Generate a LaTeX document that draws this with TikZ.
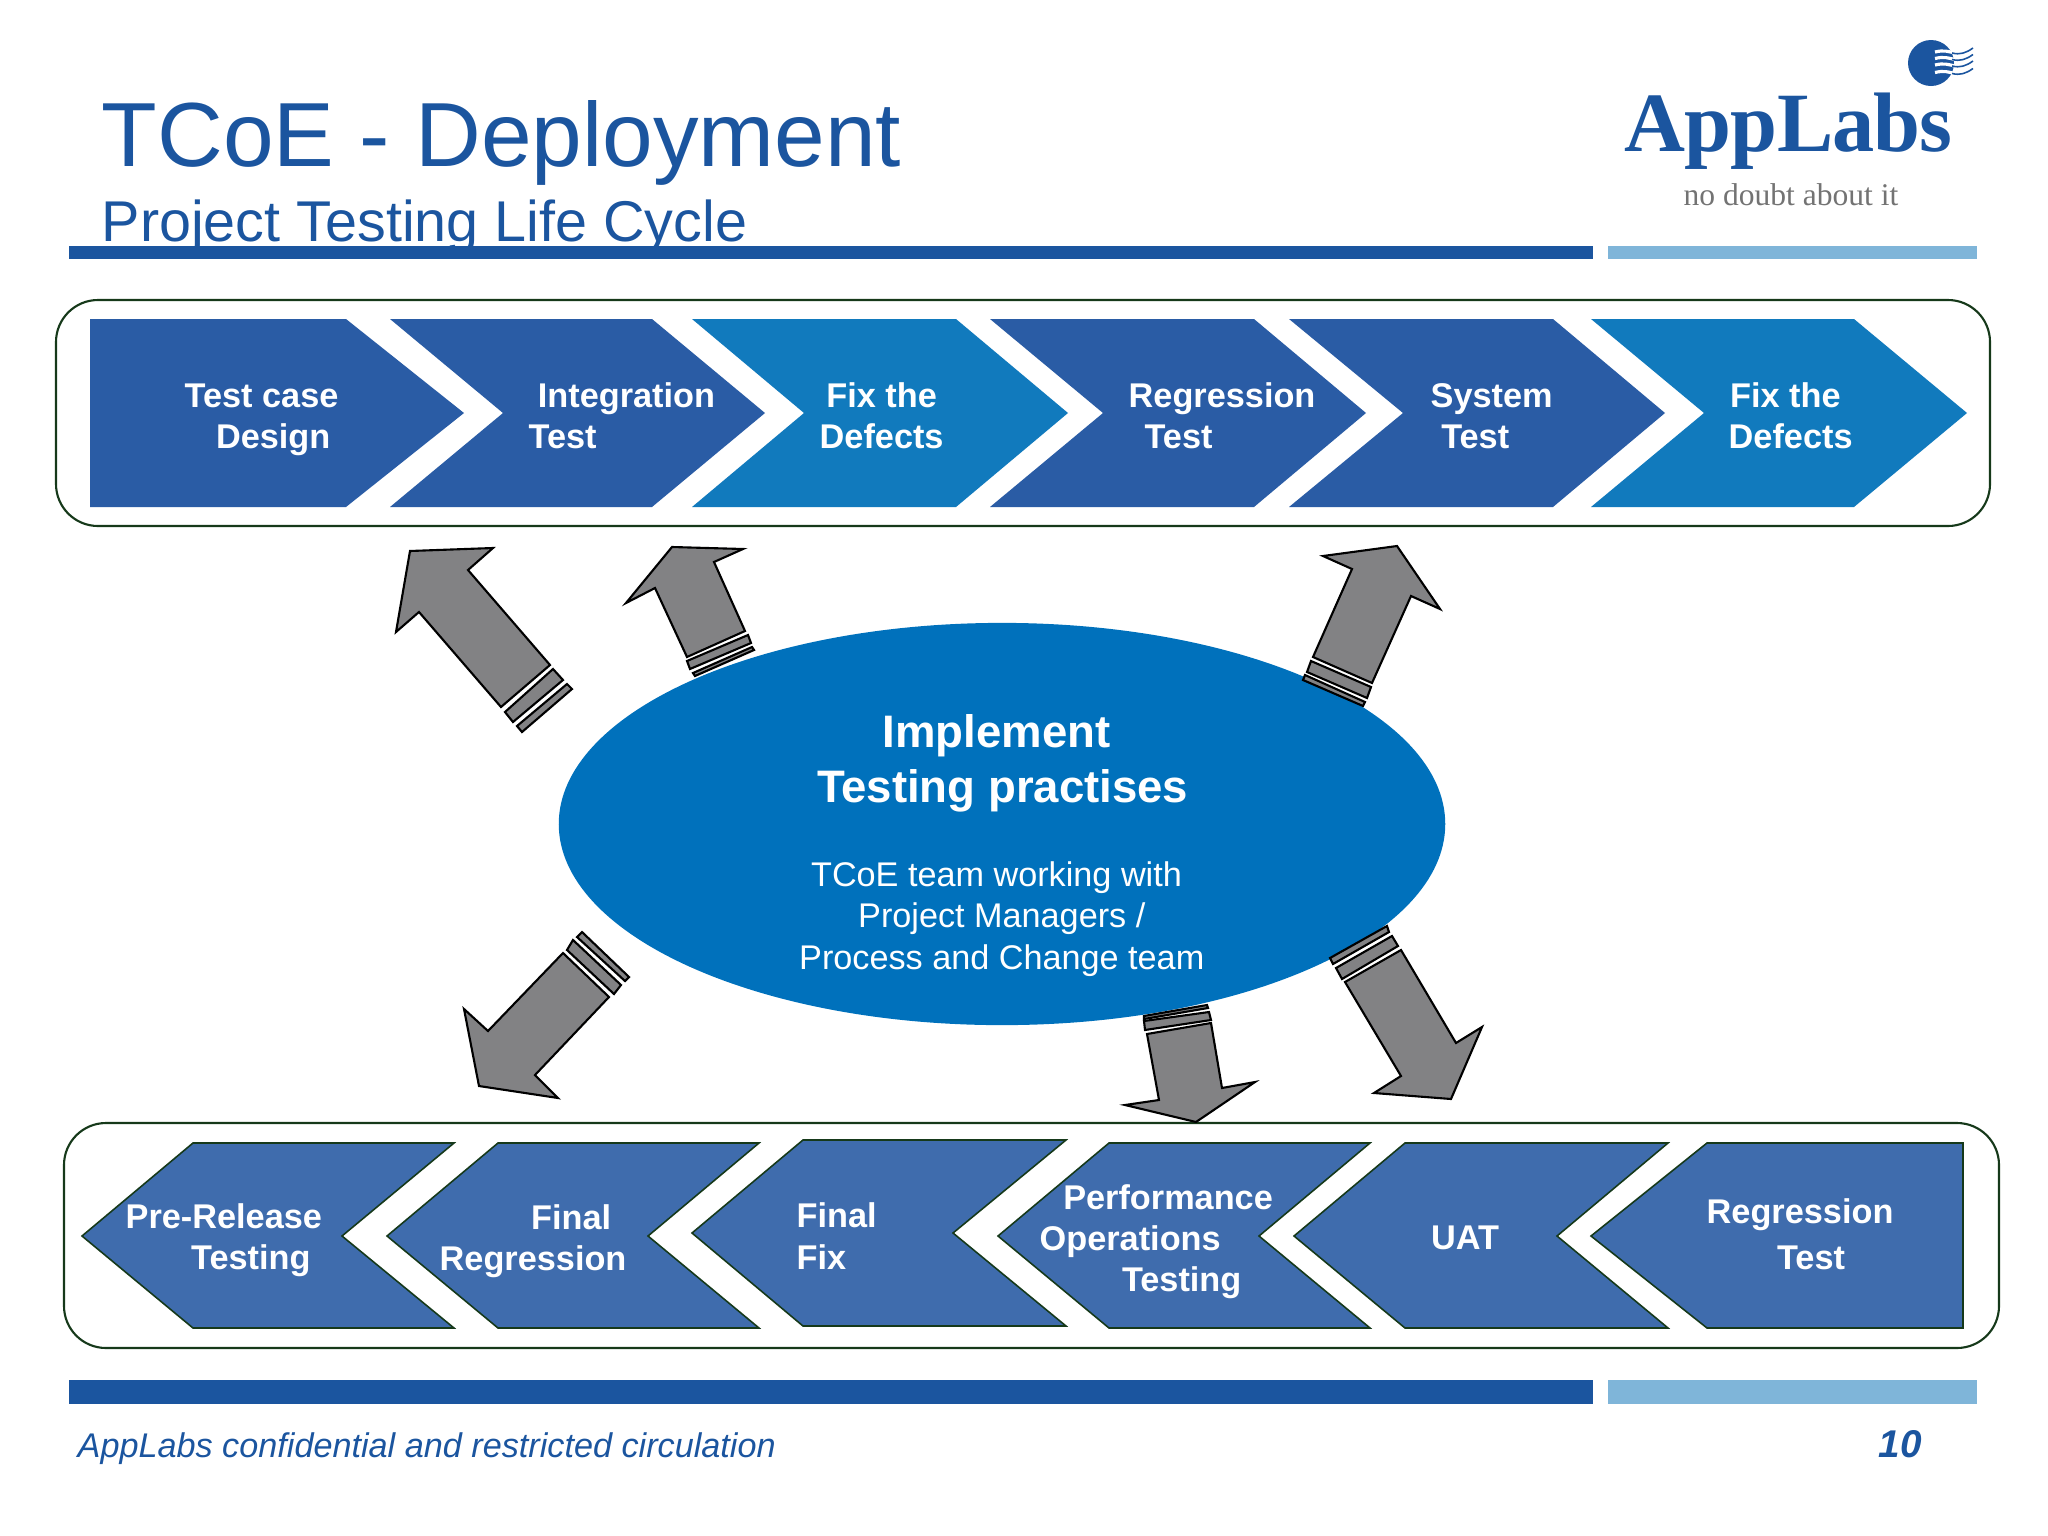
\documentclass[tikz,border=0pt]{standalone}
\usepackage{fontspec}
\setmainfont{Liberation Sans}
\newfontfamily\logofont{Liberation Serif}
\newfontfamily\logotight{Liberation Serif}[LetterSpace=-1]
\usetikzlibrary{shapes.geometric}
\definecolor{barblue}{HTML}{1B559F}
\definecolor{barlight}{HTML}{7FB5D9}
\definecolor{chevdark}{HTML}{2A5CA5}
\definecolor{chevlight}{HTML}{117ABD}
\definecolor{chevlow}{HTML}{3F6CAD}
\definecolor{panelgreen}{HTML}{16391A}
\definecolor{ovalblue}{HTML}{0071BC}
\definecolor{arrowgray}{HTML}{828284}
\tikzstyle{panel}=[draw=panelgreen,line width=0.6pt,fill=white,rounded corners=0.42cm]
\tikzstyle{lowchev}=[draw=panelgreen,line width=0.45pt,fill=chevlow]
\tikzstyle{blockarrow}=[draw=black,line width=0.6pt,fill=arrowgray,miter limit=10]
\tikzstyle{chevtext}=[anchor=west,inner sep=0pt,align=left,text=white,font=\fontsize{9.75}{11.7}\selectfont\bfseries]
\tikzstyle{ovaltext}=[inner sep=0pt,align=center,text=white]
\newcommand{\lpad}[1]{\hspace*{#1pt}}
\begin{document}
\begin{tikzpicture}[x=0.01cm,y=-0.01cm]
			\useasboundingbox (0,0) rectangle (2048,1536);
			
			\node (title) at (101,166) [anchor=base west,inner sep=0pt,text=barblue,font=\fontsize{25.9}{30}\selectfont] {TCoE - Deployment};
			\node (subtitle) at (101,241) [anchor=base west,inner sep=0pt,text=barblue,font=\fontsize{16.35}{19}\selectfont] {Project Testing Life Cycle};
			\fill [barblue] (69,246) rectangle (1593,259);
			\fill [barlight] (1608,246) rectangle (1977,259);
			\fill [barblue] (69,1380) rectangle (1593,1404);
			\fill [barlight] (1608,1380) rectangle (1977,1404);
			
			\node (logo) at (1624,151) [anchor=base west,inner sep=0pt,text=barblue,font=\logotight\bfseries\fontsize{24}{28}\selectfont] {AppLabs};
			\node (tagline) at (1683,205) [anchor=base west,inner sep=0pt,text=black!55,font=\logofont\fontsize{8.97}{11}\selectfont] {no doubt about it};
			\fill [barblue] (1931,63) circle (23);
			\foreach \wy in {52,58.5,65,72.5} {
				\draw [white,line width=0.9pt] (1935,\wy) .. controls (1943,\wy-2) and (1949,\wy-1) .. (1957,\wy+2);
				\draw [barblue,line width=0.45pt] (1952,\wy+1) .. controls (1960,\wy+3) and (1966,\wy+1) .. (1973,\wy-4);
			}
			
			\draw [panel] (56,300) rectangle (1990,526);
			\draw [panel] (64,1123) rectangle (1999,1348);
			
			\fill [chevdark] (90,319) -- (346,319) -- (464,413) -- (346,507) -- (90,507) -- cycle;
			\fill [chevdark] (390,319) -- (652,319) -- (765,413) -- (652,507) -- (390,507) -- (503,413) -- cycle;
			\fill [chevlight] (692,319) -- (956,319) -- (1068,413) -- (956,507) -- (692,507) -- (804,413) -- cycle;
			\fill [chevdark] (990,319) -- (1254,319) -- (1366,413) -- (1254,507) -- (990,507) -- (1103,413) -- cycle;
			\fill [chevdark] (1289,319) -- (1553,319) -- (1665,413) -- (1553,507) -- (1289,507) -- (1403,413) -- cycle;
			\fill [chevlight] (1591,319) -- (1854,319) -- (1967,413) -- (1854,507) -- (1591,507) -- (1704,413) -- cycle;
			
			\draw [lowchev] (82,1236) -- (193,1143) -- (454,1143) -- (342,1236) -- (454,1328) -- (193,1328) -- cycle;
			\draw [lowchev] (387,1236) -- (498,1143) -- (759,1143) -- (648,1236) -- (759,1328) -- (498,1328) -- cycle;
			\draw [lowchev] (692,1233) -- (803,1140) -- (1066,1140) -- (953,1233) -- (1066,1326) -- (803,1326) -- cycle;
			\draw [lowchev] (998,1236) -- (1109,1143) -- (1370,1143) -- (1259,1236) -- (1370,1328) -- (1109,1328) -- cycle;
			\draw [lowchev] (1294,1236) -- (1405,1143) -- (1668,1143) -- (1557,1236) -- (1668,1328) -- (1405,1328) -- cycle;
			\draw [lowchev] (1591,1236) -- (1707,1143) -- (1963,1143) -- (1963,1328) -- (1707,1328) -- cycle;
			
			\node (oval) at (1002,824) [ellipse,fill=ovalblue,inner sep=0pt,minimum width=8.86cm,minimum height=4.02cm] {};
			
			\draw [blockarrow] (410,551) -- (493,548) -- (468,570) -- (550,665) -- (501,707) -- (419,612) -- (396,632) -- cycle;
			\draw [blockarrow] (553,669) -- (563,680) -- (513,722) -- (505,712) -- cycle;
			\draw [blockarrow] (567,684) -- (572,689) -- (522,732) -- (517,726) -- cycle;
			
			\draw [blockarrow] (672,547) -- (743,549) -- (714,562) -- (745,631) -- (687,657) -- (655,588) -- (626,603) -- cycle;
			\draw [blockarrow] (748,635) -- (751,643) -- (690,669) -- (687,661) -- cycle;
			\draw [blockarrow] (752,647) -- (754,650) -- (695,676) -- (693,673) -- cycle;
			
			\draw [blockarrow] (1397,546) -- (1440,609) -- (1411,596) -- (1372,683) -- (1313,657) -- (1352,569) -- (1323,556) -- cycle;
			\draw [blockarrow] (1371,687) -- (1367,698) -- (1307,672) -- (1311,661) -- cycle;
			\draw [blockarrow] (1365,702) -- (1363,706) -- (1303,680) -- (1305,675) -- cycle;
			
			\draw [blockarrow] (563,953) -- (609,997) -- (535,1075) -- (558,1098) -- (479,1086) -- (464,1009) -- (488,1031) -- cycle;
			\draw [blockarrow] (573,940) -- (621,985) -- (614,994) -- (567,950) -- cycle;
			\draw [blockarrow] (582,932) -- (629,977) -- (625,981) -- (577,937) -- cycle;
			
			\draw [blockarrow] (1147,1034) -- (1211,1023) -- (1222,1088) -- (1255,1082) -- (1196,1122) -- (1125,1105) -- (1159,1100) -- cycle;
			\draw [blockarrow] (1144,1021) -- (1209,1012) -- (1211,1020) -- (1145,1030) -- cycle;
			\draw [blockarrow] (1144,1016) -- (1207,1005) -- (1208,1008) -- (1144,1019) -- cycle;
			
			\draw [blockarrow] (1401,950) -- (1456,1043) -- (1482,1027) -- (1451,1099) -- (1374,1093) -- (1401,1076) -- (1345,982) -- cycle;
			\draw [blockarrow] (1392,936) -- (1398,946) -- (1342,979) -- (1336,968) -- cycle;
			\draw [blockarrow] (1387,926) -- (1389,932) -- (1333,964) -- (1330,958) -- cycle;
			
			\node (design) at (184,420) [chevtext] {Test case\\\lpad{8.9}Design};
			\node (integ) at (528,416) [chevtext] {\lpad{2.6}Integration\\Test};
			\node (fixa) at (819,416) [chevtext] {\lpad{1.9}Fix the\\Defects};
			\node (regra) at (1128,416) [chevtext] {Regression\\\lpad{4.5}Test};
			\node (system) at (1430,416) [chevtext] {System\\\lpad{3}Test};
			\node (fixb) at (1728,416) [chevtext] {\lpad{0.4}Fix the\\Defects};
			
			\node (prerel) at (125,1240) [chevtext] {Pre-Release\\\lpad{18.6}Testing};
			\node (finreg) at (439,1241) [chevtext] {\lpad{26}Final\\Regression};
			\node (finfix) at (796,1236) [chevtext] {Final\\Fix};
			\node (perf) at (1039,1242) [chevtext] {\lpad{6.7}Performance\\Operations\\\lpad{23.4}Testing};
			\node (uat) at (1465,1238) [chevtext,anchor=center] {UAT};
			\node (regrb) at (1706,1234) [chevtext,font=\fontsize{9.75}{13}\selectfont\bfseries] {Regression\\\lpad{20}Test};
			
			\node (implement) at (996.5,763) [ovaltext,font=\fontsize{12.95}{15.6}\selectfont\bfseries] {Implement\\\lpad{3.5}Testing practises};
			\node (team) at (996.5,919) [ovaltext,font=\fontsize{9.73}{11.7}\selectfont] {TCoE team working with\\\lpad{3}Project Managers /\\\lpad{3}Process and Change team};
			
			\node (footer) at (77,1449) [anchor=west,inner sep=0pt,text=barblue,font=\fontsize{9.73}{11}\selectfont\itshape] {AppLabs confidential and restricted circulation};
			\node (pageno) at (1900,1444) [inner sep=0pt,text=barblue,font=\fontsize{11}{13}\selectfont\bfseries\itshape] {10};
		\end{tikzpicture}
\end{document}
